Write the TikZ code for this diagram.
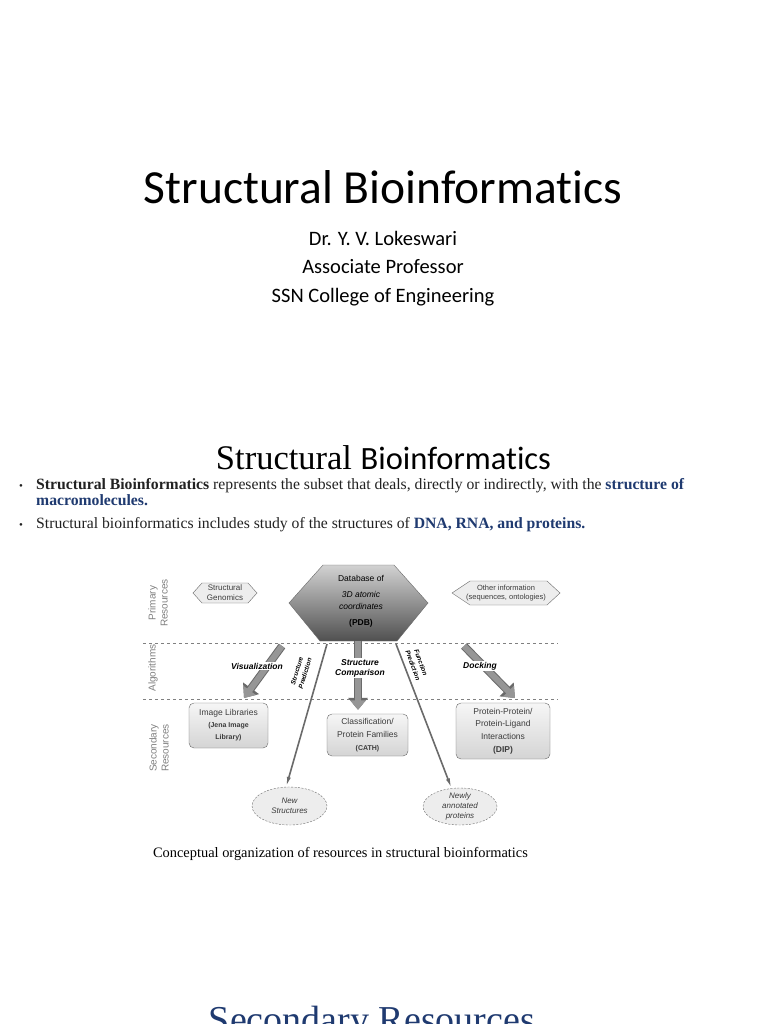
\documentclass[tikz,border=0pt]{standalone}
\usepackage{fontspec}
\setmainfont{Liberation Serif}
\newfontfamily\slidefont[Ligatures=NoCommon]{Carlito}
\newfontfamily\figfont{Liberation Sans}
\usetikzlibrary{arrows.meta,positioning,shapes.geometric}
\definecolor{SlideNavy}{HTML}{1F3A70}
\definecolor{BodyText}{HTML}{222222}
\definecolor{FigLine}{HTML}{6A6A6A}
\definecolor{FigText}{HTML}{3C3C3C}
\definecolor{FigLabel}{HTML}{808080}
\definecolor{BoxTop}{HTML}{F6F6F6}
\definecolor{BoxBottom}{HTML}{D4D4D4}
\definecolor{HexTop}{HTML}{D2D2D2}
\definecolor{HexBottom}{HTML}{505050}
\definecolor{HexSoft}{HTML}{EDEDED}
\definecolor{ArrowGrey}{HTML}{969696}
\newcommand\smallbf[1]{{\fontsize{7}{12}\selectfont\bfseries #1}}

\begin{document}
\begin{tikzpicture}[x=1pt,y=-1pt,
    figtext/.style={font=\figfont\fontsize{8.5}{12}\selectfont,text=FigText,align=center,inner sep=1pt},
    resbox/.style={figtext,draw=FigLine,rounded corners=5pt,top color=BoxTop,bottom color=BoxBottom},
    newres/.style={figtext,ellipse,draw=FigLine,dash pattern=on 2pt off 1.5pt,fill=HexSoft,inner sep=-3pt,
      font=\figfont\itshape\fontsize{8}{10}\selectfont},
    sidelabel/.style={font=\figfont\fontsize{10}{12}\selectfont,text=FigLabel,rotate=90,align=center},
    steplabel/.style={figtext,fill=white,font=\figfont\bfseries\itshape\fontsize{8.5}{10}\selectfont,text=black},
    predlabel/.style={figtext,font=\figfont\bfseries\itshape\fontsize{6.5}{8.5}\selectfont,text=black,inner sep=0pt},
    blockarrow/.style={preaction={draw=FigLine,line width=8pt,-{Triangle[length=12pt,width=19pt]}},
      draw=ArrowGrey,line width=6pt,-{Triangle[length=9.5pt,width=15pt]}},
    predline/.style={draw=FigLine,line width=1.6pt,-{Latex[length=10pt,width=4pt]}},
    bodyline/.style={anchor=base west,font=\fontsize{15.7}{17}\selectfont,text=BodyText,inner sep=0pt}]
  \useasboundingbox (0,0) rectangle (768,1024);
  \clip (0,0) rectangle (768,1024);
  \fill[white] (0,0) rectangle (768,1024);

  % title slide
  \node[anchor=base,font=\slidefont\fontsize{47.5}{50}\selectfont] (title) at (383,204) {Structural Bioinformatics};
  \foreach \y/\name/\txt in {245/author/{Dr. Y. V. Lokeswari},273/post/{Associate Professor},302/college/{SSN College of Engineering}} {
    \node[anchor=base,font=\slidefont\fontsize{20.5}{22}\selectfont] (\name) at (383,\y) {\txt};
  }

  % second slide
  \node[anchor=base,font=\fontsize{34.5}{36}\selectfont] (title2) at (383.5,469) {Structural {\slidefont\fontsize{32.5}{36}\selectfont Bioinformatics}};
  \foreach \y in {489,528}
    \node[bodyline,font=\fontsize{11}{12}\selectfont] at (19,\y) {•};
  \node[bodyline] (point1) at (36,489) {\textbf{Structural Bioinformatics} represents the subset that deals, directly or indirectly, with the \textcolor{SlideNavy}{\textbf{structure of}}};
  \node[bodyline] (point1b) at (36,505) {\textcolor{SlideNavy}{\textbf{macromolecules.}}};
  \node[bodyline] (point2) at (36,528) {Structural bioinformatics includes study of the structures of \textcolor{SlideNavy}{\textbf{DNA, RNA, and proteins.}}};

  % resource layers
  \foreach \y in {643,699}
    \draw[dashed,FigLabel] (143,\y) -- (558,\y);
  \foreach \x/\y/\name/\txt in {158/603/primlab/{Primary\\Resources},153/668/algolab/{Algorithms},159/748/seclab/{Secondary\\Resources}}
    \node[sidelabel] (\name) at (\x,\y) {\txt};

  % primary resources
  \draw[draw=FigLine,fill=HexSoft] (193,593) -- (202,583) -- (248,583) -- (257,593) -- (248,603) -- (202,603) -- cycle;
  \node[figtext,font=\figfont\fontsize{8}{10}\selectfont] (genomics) at (225,593) {Structural\\Genomics};
  \shadedraw[top color=HexTop,bottom color=HexBottom,draw=FigLine] (323,565) -- (394,565) -- (428,603) -- (397,641) -- (320,641) -- (289,603) -- cycle;
  \node[figtext,text=black] (pdb) at (361,601) {Database of\\[4pt]\textit{3D atomic}\\\textit{coordinates}\\[4pt]\textbf{(PDB)}};
  \draw[draw=FigLine,fill=HexSoft] (452,593) -- (470,581) -- (547,581) -- (560,593) -- (547,605) -- (470,605) -- cycle;
  \node[figtext,font=\figfont\fontsize{7.5}{9}\selectfont] (otherinfo) at (506,593) {Other information\\(sequences, ontologies)};

  % secondary resources
  \node[resbox,minimum width=79pt,minimum height=45pt] (imglib) at (228.5,725.5) {Image Libraries\\\smallbf{(Jena Image}\\\smallbf{Library)}};
  \node[resbox,minimum width=81pt,minimum height=42pt,font=\figfont\fontsize{8.5}{13}\selectfont] (cath) at (367.5,735) {Classification/\\Protein Families\\\smallbf{(CATH)}};
  \node[resbox,minimum width=94pt,minimum height=56pt,font=\figfont\fontsize{8.5}{12.7}\selectfont] (dip) at (503,731) {Protein-Protein/\\Protein-Ligand\\Interactions\\{\bfseries (DIP)}};
  \node[newres,minimum width=75pt,minimum height=38pt] (newstruct) at (289.5,806) {New\\Structures};
  \node[newres,minimum width=74pt,minimum height=37pt] (newprot) at (460,806.5) {Newly\\annotated\\proteins};

  % algorithms
  \coordinate (visfrom) at (282,646);
  \coordinate (visto) at (244,698);
  \coordinate (cmpfrom) at (358,641);
  \coordinate (dockfrom) at (464,646);
  \coordinate (dockto) at (515,698);
  \coordinate (spfrom) at (327,644);
  \coordinate (fpfrom) at (396,644);
  \draw[blockarrow] (visfrom) -- (visto);
  \draw[blockarrow] (cmpfrom) -- ([yshift=4pt]cmpfrom |- cath.north);
  \draw[blockarrow] (dockfrom) -- (dockto);
  \draw[predline] (spfrom) -- (newstruct.100);
  \draw[predline] (fpfrom) -- (newprot.115);
  \node[steplabel] (vis) at (257,666) {Visualization};
  \node[steplabel] (cmp) at (360,668) {Structure\\Comparison};
  \node[steplabel] (dock) at (480,666) {Docking};
  \node[predlabel,rotate=73] (splab) at (301,672) {Structure\\Prediction};
  \node[predlabel,rotate=-70] (fplab) at (417,664) {Function\\Prediction};

  % caption and next slide
  \node[anchor=base,font=\fontsize{14.4}{16}\selectfont] (caption) at (340.5,857) {Conceptual organization of resources in structural bioinformatics};
  \node[anchor=base,text=SlideNavy,font=\fontsize{38}{40}\selectfont] (nexttitle) at (372,1032) {Secondary Resources};
\end{tikzpicture}
\end{document}
